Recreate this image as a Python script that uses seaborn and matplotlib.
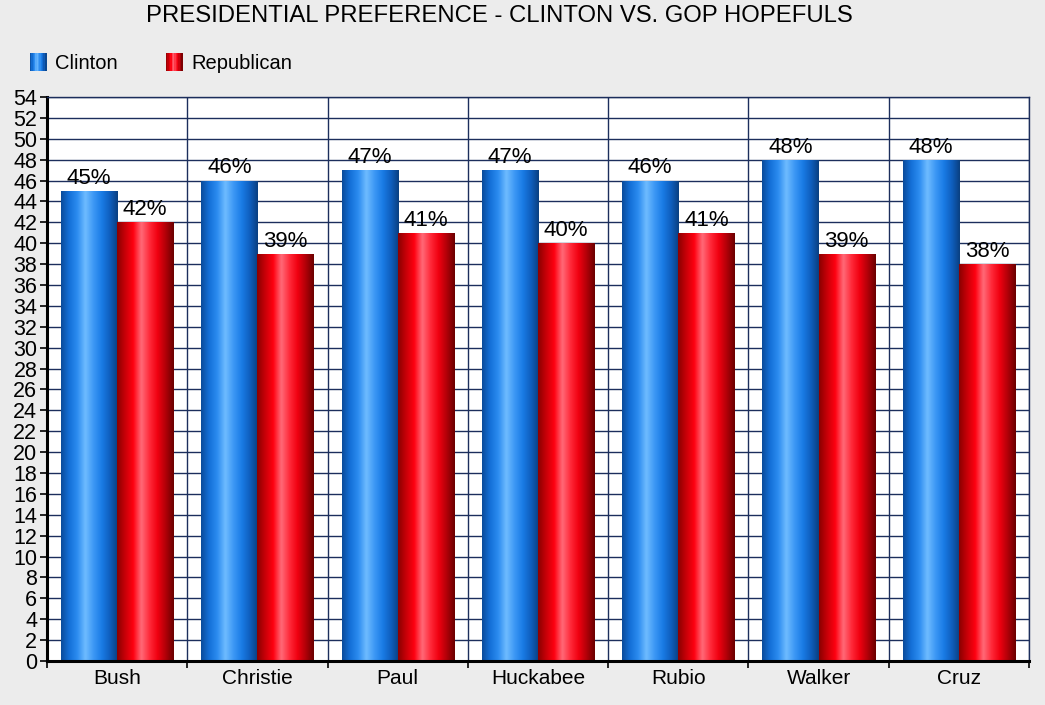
import numpy as np
import pandas as pd
import matplotlib
matplotlib.use("Agg")
import matplotlib.pyplot as plt
import seaborn as sns
from matplotlib.patches import Rectangle
from matplotlib.colors import LinearSegmentedColormap
from matplotlib.legend_handler import HandlerBase

candidates = ["Bush", "Christie", "Paul", "Huckabee", "Rubio", "Walker", "Cruz"]
clinton = [45, 46, 47, 47, 46, 48, 48]
republican = [42, 39, 41, 40, 41, 39, 38]
series = ["Clinton", "Republican"]
title = "PRESIDENTIAL PREFERENCE - CLINTON VS. GOP HOPEFULS"

df = pd.DataFrame({
    "candidate": candidates * 2,
    "party": ["Clinton"] * len(candidates) + ["Republican"] * len(candidates),
    "value": clinton + republican,
})

grad_colors = {
    "Clinton": ["#0b4b9a", "#1470d8", "#2c8cf0", "#6fbcff", "#3d98f5", "#1a7ce6", "#0f5fbf", "#0a3f80"],
    "Republican": ["#8a0000", "#c80008", "#ff0010", "#ff6a78", "#ff2a3a", "#f00010", "#b00008", "#6a0000"],
}
cmaps = {k: LinearSegmentedColormap.from_list(k, v) for k, v in grad_colors.items()}

sns.set_theme(style="white")
plt.rcParams["font.family"] = ["Liberation Sans", "DejaVu Sans"]
plt.rcParams["text.color"] = "black"
plt.rcParams["xtick.color"] = "black"
plt.rcParams["ytick.color"] = "black"
plt.rcParams["xtick.labelcolor"] = "black"
plt.rcParams["ytick.labelcolor"] = "black"

fig = plt.figure(figsize=(10.45, 7.05), dpi=100, facecolor="#ececec")
ax = fig.add_axes([47 / 1045, 1 - 661 / 705, (1029 - 47) / 1045, (661 - 97) / 705])
ax.set_facecolor("white")

sns.barplot(data=df, x="candidate", y="value", hue="party", hue_order=series,
            order=candidates, palette={"Clinton": "#1a7ce6", "Republican": "#ff0010"},
            width=0.8, gap=0, legend=False, ax=ax, zorder=3, linewidth=0, saturation=1)

grad = np.linspace(0, 1, 256).reshape(1, -1)
for cont, name in zip(ax.containers, series):
    for bar in cont:
        x0, w, h = bar.get_x(), bar.get_width(), bar.get_height()
        im = ax.imshow(grad, cmap=cmaps[name], extent=[x0, x0 + w, 0, h],
                       aspect="auto", zorder=4, interpolation="bicubic")
        im.set_clip_path(bar)
        ax.annotate(f"{int(h)}%", (x0 + w / 2, h), xytext=(0, 1.5), textcoords="offset points",
                    ha="center", va="bottom", fontsize=16, color="black", zorder=5)

ax.set_xlim(-0.5, len(candidates) - 0.5)
ax.set_ylim(0, 54)
ax.set_yticks(np.arange(0, 55, 2))
ax.set_xticks(np.arange(len(candidates)))
ax.set_xticks(np.arange(-0.5, len(candidates)), minor=True)
ax.set_xticklabels(candidates, fontsize=15)
ax.tick_params(axis="y", labelsize=15.5, length=5, width=1.2, color="black", pad=2, left=True)
ax.tick_params(axis="x", which="major", length=0, pad=6)
ax.tick_params(axis="x", which="minor", length=5, width=1.2, color="black", bottom=True)
ax.set_xlabel("")
ax.set_ylabel("")

ax.grid(False)
ax.yaxis.grid(True, color="#1c2e5c", linewidth=1, zorder=1)
ax.xaxis.grid(True, which="minor", color="#1c2e5c", linewidth=1, zorder=1)
ax.set_axisbelow(True)

for side in ["left", "bottom"]:
    ax.spines[side].set_color("black")
    ax.spines[side].set_linewidth(2.2)
for side in ["top", "right"]:
    ax.spines[side].set_color("#1c2e5c")
    ax.spines[side].set_linewidth(1)
for s in ax.spines.values():
    s.set_zorder(6)
    s.set_visible(True)


class GradHandler(HandlerBase):
    def __init__(self, cmap):
        super().__init__()
        self.cmap = cmap

    def create_artists(self, legend, orig_handle, xdescent, ydescent, width, height, fontsize, trans):
        n = 12
        arts = []
        for i in range(n):
            r = Rectangle((-xdescent + width * i / n, -ydescent), width / n + 0.3, height,
                          facecolor=self.cmap((i + 0.5) / n), edgecolor="none", transform=trans)
            arts.append(r)
        return arts


handles = [Rectangle((0, 0), 1, 1) for _ in series]
fig.legend(handles, series, loc="center left", bbox_to_anchor=(30 / 1045, 1 - 63 / 705),
           ncol=2, frameon=False, fontsize=14.5, handlelength=0.8, handleheight=1.0,
           handletextpad=0.45, columnspacing=2.4, borderpad=0, borderaxespad=0,
           handler_map={handles[0]: GradHandler(cmaps["Clinton"]), handles[1]: GradHandler(cmaps["Republican"])})

fig.text(499 / 1045, 1 - 16 / 705, title, ha="center", va="center", fontsize=17.2, color="black")

fig.savefig("out.png", dpi=100, facecolor=fig.get_facecolor())
